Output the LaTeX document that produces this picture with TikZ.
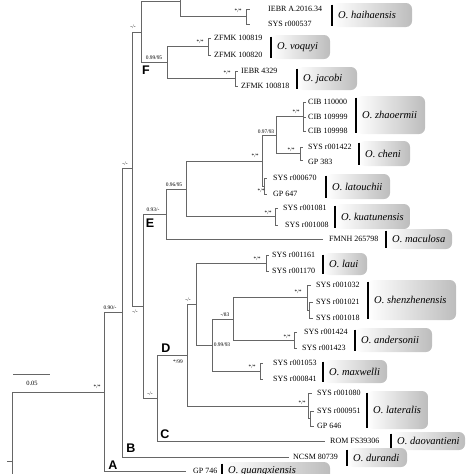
\documentclass[tikz,border=0pt]{standalone}
\usepackage{fontspec}
\setmainfont{Liberation Serif}
\newfontfamily\cladefont{Liberation Sans}
\usetikzlibrary{calc}
\tikzset{
  br/.style={draw=black!60,line width=1pt},
  tiplab/.style={anchor=west,inner sep=0pt,font=\fontsize{8}{9}\selectfont},
  sup/.style={inner sep=0pt,font=\fontsize{5.4}{6}\selectfont},
  clade/.style={inner sep=0pt,font=\cladefont\bfseries\fontsize{12.5}{13}\selectfont},
  spname/.style={anchor=west,inner sep=0pt,font=\itshape\fontsize{10.5}{12}\selectfont},
  spbar/.style={line width=2.3pt,black},
  spshade/.style={left color=white,right color=black!26,rounded corners=6pt}
}
\newcommand\spbox[6]{%
  \shade[spshade] (#2,#3) rectangle (#5,#4);
  \draw[spbar] (#2,#3+1.5) -- (#2,#4-1.5);
  \node[spname] (#1) at ({#2+6},{(#3+#4)/2}) {#6};
}
\begin{document}
\begin{tikzpicture}[x=1pt,y=-1pt]
\useasboundingbox (0,0) rectangle (474,474);
% ---------------- internal nodes ----------------
\coordinate (n12) at (12,461);
\coordinate (rootstub) at (7,461);
\coordinate (rootlow) at (60,530);
\coordinate (n104) at (104.5,392);
\coordinate (n122) at (122,312.5);
\coordinate (n132) at (132,168);
\coordinate (n141) at (141,32);
\coordinate (n180) at (180,1);
\coordinate (tup) at (240,-14);
\coordinate (n246) at (246,16.5);
\coordinate (nF) at (167,62.5);
\coordinate (n208) at (208,46.5);
\coordinate (n235) at (235,78.5);
\coordinate (n143) at (143,306);
\coordinate (n166) at (166,214);
\coordinate (n186) at (186,189);
\coordinate (n262) at (262,161);
\coordinate (n276) at (276,135);
\coordinate (n303) at (303,116.5);
\coordinate (n300) at (300,153.5);
\coordinate (n264) at (264,186);
\coordinate (n275) at (275,216.5);
\coordinate (n157) at (157,398);
\coordinate (nD) at (187,355.5);
\coordinate (n196) at (196,304.5);
\coordinate (n266) at (266,263);
\coordinate (n212) at (212,345);
\coordinate (n233) at (233,319);
\coordinate (n307) at (307,297.5);
\coordinate (n309) at (309.5,310);
\coordinate (n294) at (294,340);
\coordinate (n260) at (260,371);
\coordinate (n308) at (308,406);
\coordinate (n310) at (310.5,418.5);
% ---------------- tip ends ----------------
\coordinate (hA) at (250,9);   \coordinate (hB) at (250,24);
\coordinate (vA) at (211,38);  \coordinate (vB) at (211,55);
\coordinate (jA) at (238,71);  \coordinate (jB) at (238,86);
\coordinate (zA) at (306,102); \coordinate (zB) at (306,117); \coordinate (zC) at (306,131);
\coordinate (cA) at (303,147); \coordinate (cB) at (303,160);
\coordinate (lA) at (267,178); \coordinate (lB) at (267,194);
\coordinate (kA) at (278,208); \coordinate (kB) at (278,225);
\coordinate (mE) at (323,239);
\coordinate (uA) at (269,255); \coordinate (uB) at (269,271);
\coordinate (sA) at (311,285); \coordinate (sB) at (312.5,302); \coordinate (sC) at (312.5,318);
\coordinate (aA) at (297,332); \coordinate (aB) at (297,348);
\coordinate (xA) at (263,363); \coordinate (xB) at (263,379);
\coordinate (rA) at (312,393); \coordinate (rB) at (313.5,411); \coordinate (rC) at (313.5,426);
\coordinate (tC) at (325,441);
\coordinate (tB) at (289,457);
\coordinate (tA) at (186,471);
% ---------------- branches ----------------
\draw[br] (rootstub) -- (n12);
\draw[br] (n12) |- (n104);
\draw[br] (n12) |- (rootlow);
\draw[br] (n104) |- (n122);
\draw[br] (n104) |- (tA);
\draw[br] (n122) |- (n132);
\draw[br] (n122) |- (tB);
\draw[br] (n132) |- (n141);
\draw[br] (n132) |- (n143);
\draw[br] (n141) |- (n180);
\draw[br] (n141) |- (nF);
\draw[br] (n180) |- (tup);
\draw[br] (n180) |- (n246);
\draw[br] (n246) |- (hA);
\draw[br] (n246) |- (hB);
\draw[br] (nF) |- (n208);
\draw[br] (nF) |- (n235);
\draw[br] (n208) |- (vA);
\draw[br] (n208) |- (vB);
\draw[br] (n235) |- (jA);
\draw[br] (n235) |- (jB);
\draw[br] (n143) |- (n166);
\draw[br] (n143) |- (n157);
\draw[br] (n166) |- (n186);
\draw[br] (n166) |- (mE);
\draw[br] (n186) |- (n262);
\draw[br] (n186) |- (n275);
\draw[br] (n262) |- (n276);
\draw[br] (n262) |- (n264);
\draw[br] (n276) |- (n303);
\draw[br] (n276) |- (n300);
\draw[br] (n303) |- (zA);
\draw[br] (n303) |- (zB);
\draw[br] (n303) |- (zC);
\draw[br] (n300) |- (cA);
\draw[br] (n300) |- (cB);
\draw[br] (n264) |- (lA);
\draw[br] (n264) |- (lB);
\draw[br] (n275) |- (kA);
\draw[br] (n275) |- (kB);
\draw[br] (n157) |- (nD);
\draw[br] (n157) |- (tC);
\draw[br] (nD) |- (n196);
\draw[br] (nD) |- (n308);
\draw[br] (n196) |- (n266);
\draw[br] (n196) |- (n212);
\draw[br] (n266) |- (uA);
\draw[br] (n266) |- (uB);
\draw[br] (n212) |- (n233);
\draw[br] (n212) |- (n260);
\draw[br] (n233) |- (n307);
\draw[br] (n233) |- (n294);
\draw[br] (n307) |- (sA);
\draw[br] (n307) |- (n309);
\draw[br] (n309) |- (sB);
\draw[br] (n309) |- (sC);
\draw[br] (n294) |- (aA);
\draw[br] (n294) |- (aB);
\draw[br] (n260) |- (xA);
\draw[br] (n260) |- (xB);
\draw[br] (n308) |- (rA);
\draw[br] (n308) |- (n310);
\draw[br] (n310) |- (rB);
\draw[br] (n310) |- (rC);
% ---------------- species boxes ----------------
\spbox{sp1}{332}{3}{27}{412}{O. haihaensis}
\spbox{sp2}{271}{35}{59}{330}{O. voquyi}
\spbox{sp3}{297}{67}{90}{357}{O. jacobi}
\spbox{sp4}{356}{96}{134}{425}{O. zhaoermii}
\spbox{sp5}{359}{141}{166}{410}{O. cheni}
\spbox{sp6}{326}{174}{199}{390}{O. latouchii}
\spbox{sp7}{335}{204}{229}{410}{O. kuatunensis}
\spbox{sp8}{386}{229}{249}{452}{O. maculosa}
\spbox{sp9}{323}{253}{275}{367}{O. laui}
\spbox{sp10}{368}{280}{320}{456}{O. shenzhenensis}
\spbox{sp11}{355}{328}{352}{432}{O. andersonii}
\spbox{sp12}{323}{360}{383}{387}{O. maxwelli}
\spbox{sp13}{367}{391}{429}{428}{O. lateralis}
\spbox{sp14}{391}{432}{450}{465}{O. daovantieni}
\spbox{sp15}{347}{448}{467}{407}{O. durandi}
\spbox{sp16}{222}{462}{481}{330}{O. guangxiensis}
% ---------------- tip labels ----------------
\node[tiplab] (LhA) at (268,9) {IEBR A.2016.34};
\node[tiplab] (LhB) at (268,24) {SYS r000537};
\node[tiplab] (LvA) at (214,38) {ZFMK 100819};
\node[tiplab] (LvB) at (214,55) {ZFMK 100820};
\node[tiplab] (LjA) at (241,71) {IEBR 4329};
\node[tiplab] (LjB) at (241,86) {ZFMK 100818};
\node[tiplab] (LzA) at (308,102) {CIB 110000};
\node[tiplab] (LzB) at (308,117) {CIB 109999};
\node[tiplab] (LzC) at (308,131) {CIB 109998};
\node[tiplab] (LcA) at (308,147) {SYS r001422};
\node[tiplab] (LcB) at (308,162) {GP 383};
\node[tiplab] (LlA) at (273,178) {SYS r000670};
\node[tiplab] (LlB) at (273,194) {GP 647};
\node[tiplab] (LkA) at (283,208) {SYS r001081};
\node[tiplab] (LkB) at (285,225) {SYS r001008};
\node[tiplab] (LmE) at (329,239) {FMNH 265798};
\node[tiplab] (LuA) at (272,255) {SYS r001161};
\node[tiplab] (LuB) at (272,271) {SYS r001170};
\node[tiplab] (LsA) at (316,285) {SYS r001032};
\node[tiplab] (LsB) at (316,302) {SYS r001021};
\node[tiplab] (LsC) at (316,318) {SYS r001018};
\node[tiplab] (LaA) at (304,332) {SYS r001424};
\node[tiplab] (LaB) at (302,348) {SYS r001423};
\node[tiplab] (LxA) at (273,363) {SYS r001053};
\node[tiplab] (LxB) at (273,379) {SYS r000841};
\node[tiplab] (LrA) at (317,393) {SYS r001080};
\node[tiplab] (LrB) at (317,411) {SYS r000951};
\node[tiplab] (LrC) at (317,426) {GP 646};
\node[tiplab] (LtC) at (330,441) {ROM FS39306};
\node[tiplab] (LtB) at (293,457) {NCSM 80739};
\node[tiplab] (LtA) at (193,470.5) {GP 746};
% ---------------- support values ----------------
\node[sup] (s141) at (133,27) {-/-};
\node[sup] (s246) at (238,11) {*/*};
\node[sup] (sF) at (154,58) {0.99/95};
\node[sup] (s208) at (200,42) {*/*};
\node[sup] (s235) at (227,73) {*/*};
\node[sup] (s132) at (125,164) {-/-};
\node[sup] (s143) at (135,312) {-/-};
\node[sup] (s166) at (153,210) {0.93/-};
\node[sup] (s186) at (174,185) {0.96/95};
\node[sup] (s262) at (255,156) {*/*};
\node[sup] (s276) at (266,132) {0.97/93};
\node[sup] (s303) at (296,112) {*/*};
\node[sup] (s300) at (291,150) {*/*};
\node[sup] (s264) at (261,191) {*/*};
\node[sup] (s275) at (268,213) {*/*};
\node[sup] (s104) at (110,308) {0.90/-};
\node[sup] (s12) at (97,387) {*/*};
\node[sup] (s157) at (150,394) {-/-};
\node[sup] (sD) at (178,362) {*/99};
\node[sup] (s196) at (188,300) {-/-};
\node[sup] (s266) at (257,259) {*/*};
\node[sup] (s212) at (222,345) {0.99/93};
\node[sup] (s233) at (225,315) {-/83};
\node[sup] (s307) at (298,292) {*/*};
\node[sup] (s294) at (287,337) {*/*};
\node[sup] (s260) at (252,367) {*/*};
\node[sup] (s308) at (302,403) {*/*};
% ---------------- clade letters ----------------
\node[clade] (cF) at (146,70) {F};
\node[clade] (cE) at (150,223) {E};
\node[clade] (cD) at (166,348) {D};
\node[clade] (cC) at (165,434) {C};
\node[clade] (cB) at (131,448) {B};
\node[clade] (cA) at (113,465) {A};
% ---------------- scale bar ----------------
\coordinate (sb1) at (13,374);
\coordinate (sb2) at (50,374);
\draw[br] (sb1) -- (sb2);
\node[inner sep=0pt,font=\fontsize{6.5}{7}\selectfont] (sbl) at (32,383) {0.05};
\end{tikzpicture}
\end{document}
